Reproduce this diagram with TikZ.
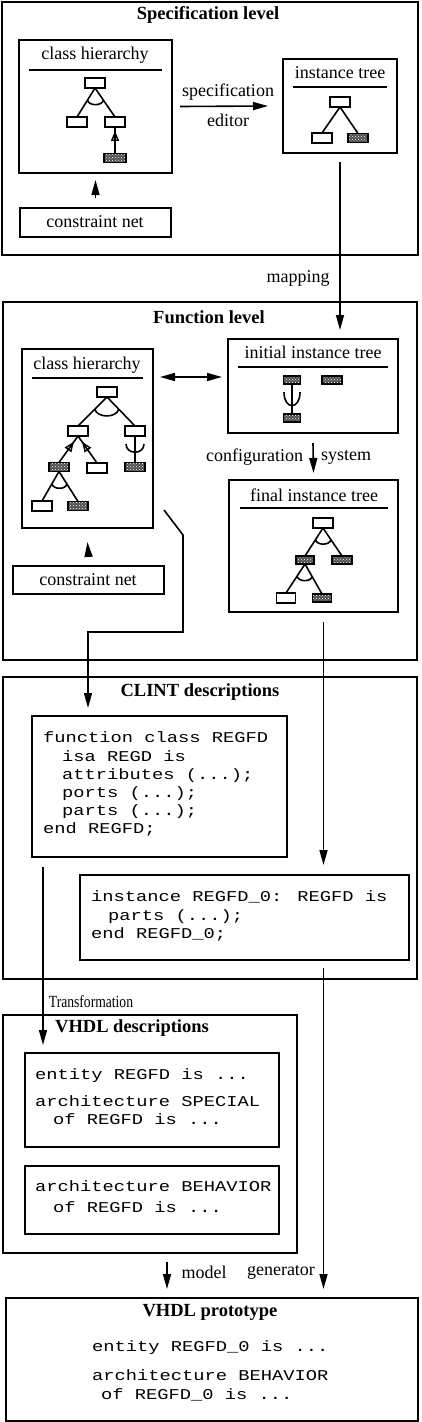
\documentclass[tikz,border=0pt]{standalone}
\usepackage{fontspec}
\setmainfont{Liberation Serif}
\newfontfamily\codefont[FakeStretch=1.25]{Liberation Mono}
\newfontfamily\narrowfont[FakeStretch=0.8]{Liberation Serif}
\usetikzlibrary{arrows.meta,patterns,decorations.markings,calc}
\newcommand\mkbox[6]{\node[#2, anchor=north west, minimum width=#5pt-#3pt, minimum height=#6pt-#4pt] (#1) at (#3,#4) {};}
\newcommand\andarc[4][0.42]{\draw[tl] ($(#2.south)!#1!(#3.north)$) to[bend right=75] ($(#2.south)!#1!(#4.north)$);}
\tikzset{
  every node/.style={inner sep=0pt, outer sep=0pt},
  frame/.style={draw, line width=2pt},
  inner/.style={draw, line width=1.8pt},
  lbl/.style={font=\fontsize{18}{18}\selectfont},
  ttl/.style={font=\fontsize{18.5}{18.5}\selectfont\bfseries},
  code/.style={font=\codefont\fontsize{15}{18.2}\selectfont, align=left, anchor=north west},
  ebox/.style={draw, line width=1.6pt, minimum width=20pt, minimum height=10pt, fill=white},
  hbox/.style={draw, line width=1.6pt, minimum width=20pt, minimum height=9pt, preaction={fill=black!70}, pattern=crosshatch dots, pattern color=white},
  tl/.style={line width=1.6pt},
  uline/.style={line width=1.5pt},
  tip/.style={Triangle[length=15pt,width=8pt]},
  arr/.style={line width=1.6pt, -{Triangle[length=15pt,width=8pt]}},
  darr/.style={line width=1.6pt, {Triangle[length=15pt,width=8pt]}-{Triangle[length=15pt,width=8pt]}},
  inh/.style={tl, postaction={decorate}, decoration={markings, mark=at position #1 with {\arrow{Triangle[open, length=10pt, width=8pt, line width=1.4pt]}}}},
  inh/.default=0.8
}
\begin{document}
\begin{tikzpicture}[x=1pt,y=-1pt]
\fill[white] (0,0) rectangle (422,1422);
\useasboundingbox (0,0) rectangle (422,1422);

% ---------------- Specification level
\mkbox{spec}{frame}{2}{2}{418}{255}
\node[ttl] (tspec) at (208,15) {Specification level};
\mkbox{sch}{inner}{19}{40}{172}{173}
\node[lbl] (tsch) at (95,55) {class hierarchy};
\draw[uline] (29,70) -- (162,70);
\node[ebox] (s1) at (95,83) {};
\node[ebox] (s2) at (77,122) {};
\node[ebox] (s3) at (115,122) {};
\node[hbox, minimum width=22pt] (s4) at (115,158) {};
\draw[tl] (s1.south) -- (s2.north);
\draw[tl] (s1.south) -- (s3.north);
\andarc{s1}{s2}{s3}
\draw[inh=0.85] (s4.north) -- (s3.south);
\mkbox{scn}{inner}{20}{208}{171}{237}
\node[lbl] (tscn) at (95,222) {constraint net};

\mkbox{sit}{inner}{283}{59}{397}{153}
\node[lbl] (tsit) at (340,73) {instance tree};
\draw[uline] (293,87) -- (387,87);
\node[ebox] (i1) at (340,102) {};
\node[ebox] (i2) at (322,138) {};
\node[hbox] (i3) at (358,138) {};
\draw[tl] (i1.south) -- (i2.north);
\draw[tl] (i1.south) -- (i3.north);

\node[lbl] (lspec) at (228,92) {specification};
\node[lbl] (ledit) at (228,120) {editor};
\node[lbl] (lmap) at (298,278) {mapping};

% ---------------- Function level
\mkbox{fn}{frame}{3}{302}{417}{660}
\node[ttl] (tfn) at (209,317) {Function level};
\mkbox{fch}{inner}{22}{349}{153}{528}
\node[lbl] (tfch) at (87,365) {class hierarchy};
\draw[uline] (32,378) -- (143,378);
\node[ebox] (f1) at (107,392) {};
\node[ebox] (f2) at (78,431) {};
\node[ebox] (f3) at (135,431) {};
\node[hbox] (f4) at (59,467) {};
\node[ebox] (f5) at (97,468) {};
\node[hbox] (f6) at (135,467) {};
\node[ebox] (f7) at (42,506) {};
\node[hbox] (f8) at (78,506) {};
\draw[tl] (f1.south) -- (f2.north);
\draw[tl] (f1.south) -- (f3.north);
\andarc{f1}{f2}{f3}
\draw[tl] (f3.south) -- (f6.north);
\coordinate (u1) at ($(f3.south)!0.3!(f6.north)$);
\draw[tl] ([xshift=-9pt]u1) .. controls +(0,11) and +(0,11) .. ([xshift=9pt]u1);
\draw[inh=0.78] (f4.north) -- (f2.south);
\draw[inh=0.78] (f5.north) -- (f2.south);
\draw[tl] (f4.south) -- (f7.north);
\draw[tl] (f4.south) -- (f8.north);
\andarc{f4}{f7}{f8}
\mkbox{fcn}{inner}{13}{566}{164}{594}
\node[lbl] (tfcn) at (88,580) {constraint net};

\mkbox{fit}{inner}{228}{339}{398}{433}
\node[lbl] (tfit) at (313,352) {initial instance tree};
\draw[uline] (238,367) -- (388,367);
\node[hbox, minimum width=17pt, minimum height=8pt] (g1) at (292,380) {};
\node[hbox, minimum width=20pt, minimum height=8pt] (g2) at (332,380) {};
\node[hbox, minimum width=17pt, minimum height=8pt] (g3) at (292,418) {};
\draw[tl] (g1.south) -- (g3.north);
\coordinate (u2) at ($(g1.south)!0.27!(g3.north)$);
\draw[tl] ([xshift=-8pt]u2) .. controls +(0,18) and +(0,18) .. ([xshift=8pt]u2);

\mkbox{fft}{inner}{229}{480}{398}{612}
\node[lbl] (tfft) at (314,495) {final instance tree};
\draw[uline] (240,508) -- (388,508);
\node[ebox] (h1) at (323,523) {};
\node[hbox, minimum width=18pt, minimum height=8pt] (h2) at (305,560) {};
\node[hbox, minimum width=20pt, minimum height=8pt] (h3) at (342,560) {};
\node[ebox, minimum width=19pt] (h4) at (286,598) {};
\node[hbox, minimum width=19pt, minimum height=8pt] (h5) at (322,598) {};
\draw[tl] (h1.south) -- (h2.north);
\draw[tl] (h1.south) -- (h3.north);
\andarc{h1}{h2}{h3}
\draw[tl] (h2.south) -- (h4.north);
\draw[tl] (h2.south) -- (h5.north);
\andarc{h2}{h4}{h5}

\node[lbl, anchor=east] (lconf) at (303,457) {configuration};
\node[lbl, anchor=west] (lsys) at (321,457) {system};

% ---------------- CLINT descriptions
\mkbox{cl}{frame}{3}{677}{417}{979}
\node[ttl] (tcl) at (200,692) {CLINT descriptions};
\mkbox{fcd}{inner}{32}{716}{287}{857}
\node[code] (fcdtxt) at (43,732) {function class REGFD\\\hspace*{19pt}isa REGD is\\\hspace*{19pt}attributes (...);\\\hspace*{19pt}ports (...);\\\hspace*{19pt}parts (...);\\end REGFD;};
\mkbox{ins}{inner}{80}{875}{409}{960}
\node[code] (instxt) at (91,891) {instance REGFD\_0: REGFD is\\\hspace*{17pt}parts (...);\\end REGFD\_0;};

\node[lbl, font=\narrowfont\fontsize{17}{17}\selectfont] (ltrans) at (91,1002) {Transformation};

% ---------------- VHDL descriptions
\mkbox{vd}{frame}{3}{1015}{297}{1253}
\node[ttl] (tvd) at (132,1028) {VHDL descriptions};
\mkbox{ent}{inner}{25}{1053}{279}{1147}
\node[code] (enttxt) at (35,1069) {entity REGFD is ...\\[8pt]architecture SPECIAL\\\hspace*{18pt}of REGFD is ...};
\mkbox{beh}{inner}{25}{1166}{279}{1234}
\node[code, font=\codefont\fontsize{15}{21}\selectfont] (behtxt) at (35,1181) {architecture BEHAVIOR\\\hspace*{18pt}of REGFD is ...};

\node[lbl] (lmodel) at (204,1272) {model};
\node[lbl] (lgen) at (281,1272) {generator};

% ---------------- VHDL prototype
\mkbox{vp}{frame}{6}{1298}{418}{1421}
\node[ttl] (tvp) at (210,1312) {VHDL prototype};
\node[code] (vptxt1) at (92,1341) {entity REGFD\_0 is ...};
\node[code] (vptxt2) at (92,1370) {architecture BEHAVIOR\\\hspace*{9pt}of REGFD\_0 is ...};

% ---------------- connectors
\draw[arr] ([yshift=10pt]scn.north) -- ([yshift=-7pt]sch.south);
\draw[arr] ([xshift=8pt]sch.east) -- ([xshift=-15pt]sit.west);
\coordinate (m1) at ([yshift=-9pt]sit.south);
\coordinate (m2) at ([yshift=9pt]fit.north);
\draw[arr] (m1) -- (m1 |- m2);

\draw[arr] ([yshift=10pt]fcn.north) -- ([yshift=-14pt]fch.south);
\coordinate (da) at ([xshift=7pt,yshift=-28pt]fch.north east);
\coordinate (db) at ([xshift=-6pt]fit.west);
\draw[darr] (da) -- (da -| db);
\draw[arr] ([yshift=-10pt]fit.south) -- ([yshift=7pt]fft.north);

\coordinate (q0) at ([xshift=11pt,yshift=18pt]fch.south east);
\coordinate (q1) at ([xshift=30pt,yshift=-7pt]fch.south east);
\coordinate (q2) at ([yshift=28pt]fn.south);
\coordinate (q4) at ([xshift=56pt,yshift=8pt]fcd.north west);
\draw[arr] (q0) -- (q1) -- (q1 |- q2) -- (q4 |- q2) -- (q4);

\coordinate (k1) at ([xshift=10pt,yshift=-10pt]fft.south);
\coordinate (k2) at ([yshift=10pt]ins.north);
\draw[arr] (k1) -- (k1 |- k2);

\coordinate (t1) at ([xshift=11pt,yshift=-10pt]fcd.south west);
\coordinate (t2) at ([yshift=8pt]ent.north);
\draw[arr] (t1) -- (t1 |- t2);

\coordinate (k3) at ([yshift=-8pt]ins.south);
\coordinate (k4) at ([yshift=9pt]vp.north);
\draw[arr] (k1 |- k3) -- (k1 |- k4);

\coordinate (v1) at ([xshift=17pt,yshift=-9pt]vd.south);
\draw[arr] (v1) -- (v1 |- k4);
\end{tikzpicture}
\end{document}
